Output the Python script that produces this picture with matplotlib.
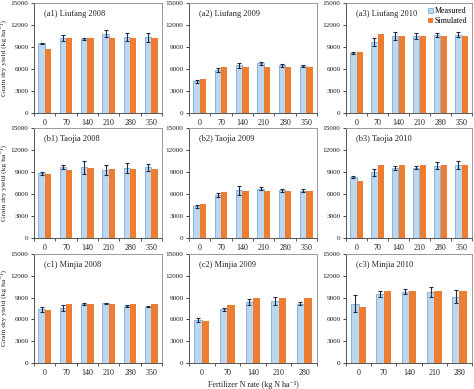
import matplotlib.pyplot as plt
import numpy as np

plt.rcParams['font.family'] = ['Liberation Serif', 'DejaVu Serif']

# N rates (kg N/ha)
n_rates6 = ['0', '70', '140', '210', '280', '350']
n_rates5 = ['0', '70', '140', '210', '280']

# Liufang
a1_meas = [9500, 10200, 10050, 10800, 10350, 10300]
a1_err = [100, 400, 150, 450, 500, 600]
a1_sim = [8750, 10200, 10200, 10200, 10200, 10200]

a2_meas = [4350, 5850, 6500, 6750, 6500, 6400]
a2_err = [200, 300, 350, 250, 200, 150]
a2_sim = [4600, 6280, 6280, 6280, 6280, 6280]

a3_meas = [8200, 9700, 10500, 10550, 10650, 10700]
a3_err = [100, 500, 600, 400, 300, 300]
a3_sim = [8250, 10750, 10550, 10550, 10550, 10550]

# Taojia
b1_meas = [8800, 9650, 9650, 9300, 9520, 9650]
b1_err = [200, 300, 900, 700, 650, 500]
b1_sim = [8700, 9250, 9500, 9450, 9450, 9450]

b2_meas = [4300, 5850, 6500, 6750, 6500, 6450]
b2_err = [200, 250, 600, 250, 200, 200]
b2_sim = [4600, 6280, 6350, 6350, 6350, 6350]

b3_meas = [8300, 8970, 9550, 9600, 9850, 9950]
b3_err = [150, 500, 300, 200, 500, 500]
b3_sim = [7800, 9980, 9980, 9980, 9980, 9980]

# Minjia
c1_meas = [7380, 7620, 8080, 8220, 7850, 7750]
c1_err = [300, 400, 150, 100, 100, 100]
c1_sim = [7340, 8170, 8170, 8170, 8170, 8170]

c2_meas = [5900, 7380, 8400, 8540, 8170]
c2_err = [250, 200, 400, 550, 250]
c2_sim = [5770, 8050, 9000, 9000, 9000]

c3_meas = [8170, 9460, 9780, 9780, 9090]
c3_err = [1200, 400, 350, 700, 900]
c3_sim = [7750, 9920, 9920, 9920, 9920]

panels = [
    ('(a1) Liufang 2008', n_rates6, a1_meas, a1_err, a1_sim),
    ('(a2) Liufang 2009', n_rates6, a2_meas, a2_err, a2_sim),
    ('(a3) Liufang 2010', n_rates6, a3_meas, a3_err, a3_sim),
    ('(b1) Taojia 2008', n_rates6, b1_meas, b1_err, b1_sim),
    ('(b2) Taojia 2009', n_rates6, b2_meas, b2_err, b2_sim),
    ('(b3) Taojia 2010', n_rates6, b3_meas, b3_err, b3_sim),
    ('(c1) Minjia 2008', n_rates6, c1_meas, c1_err, c1_sim),
    ('(c2) Minjia 2009', n_rates5, c2_meas, c2_err, c2_sim),
    ('(c3) Minjia 2010', n_rates5, c3_meas, c3_err, c3_sim),
]

W, H = 474, 389
fig = plt.figure(figsize=(W / 100, H / 100), dpi=100)

# axes boxes in pixels (left, right) and (top, bottom)
cols = [(34, 162), (189, 317), (346, 472)]
rows = [(3, 113), (128, 238), (254, 363)]

meas_col = '#BDD7EE'
meas_edge = '#6A9FD0'
sim_col = '#ED7D31'
err_col = '#1F2A44'
bw = 0.29

for k, (title, cats, meas, err, sim) in enumerate(panels):
    r, c = divmod(k, 3)
    x0, x1 = cols[c]
    y0, y1 = rows[r]
    ax = fig.add_axes([x0 / W, 1 - y1 / H, (x1 - x0) / W, (y1 - y0) / H])
    x = np.arange(len(cats))
    b1 = ax.bar(x - bw / 2, meas, bw, color=meas_col, edgecolor=meas_edge,
                linewidth=0.5, yerr=err,
                error_kw=dict(ecolor=err_col, elinewidth=0.8, capsize=1.5, capthick=0.8))
    b2 = ax.bar(x + bw / 2, sim, bw, color=sim_col, linewidth=0)
    ax.set_xlim(-0.5, len(cats) - 0.5)
    ax.set_ylim(0, 15000)
    ax.set_yticks(np.arange(0, 15001, 3000))
    ax.set_xticks(x)
    ax.set_xticklabels(cats)
    ax.set_xticks(np.arange(-0.5, len(cats), 1), minor=True)
    ax.tick_params(axis='x', which='major', length=0, labelsize=5.8, pad=4, colors='#222222')
    ax.tick_params(axis='x', which='minor', length=2.5, width=0.7, direction='out', color='#555555')
    ax.tick_params(axis='y', length=2, width=0.6, labelsize=5.2, pad=2, colors='#222222')
    for s in ['top', 'right']:
        ax.spines[s].set_color('#999999')
        ax.spines[s].set_linewidth(0.7)
    for s in ['left', 'bottom']:
        ax.spines[s].set_color('#555555')
        ax.spines[s].set_linewidth(0.7)
    ax.text(0.08, 0.90, title, transform=ax.transAxes, fontsize=6,
            va='center', ha='left', color='#222222')
    if c == 0:
        ax.set_ylabel('Grain dry yield (kg ha\u207b\u00b9)', fontsize=5.4, color='#222222')
        ax.yaxis.set_label_coords((7.5 - x0) / (x1 - x0), 0.5)
    if k == 2:
        ax.legend([b1, b2], ['Measured', 'Simulated'], loc='upper right',
                  frameon=False, fontsize=5.8, handlelength=0.6, handleheight=0.6,
                  handletextpad=0.3, borderaxespad=0.15, labelspacing=0.25)
    if k == 7:
        ax.set_xlabel('Fertilizer N rate (kg N ha\u207b\u00b9)', fontsize=5.8, labelpad=3, color='#222222')

fig.savefig('out.png', dpi=100)
